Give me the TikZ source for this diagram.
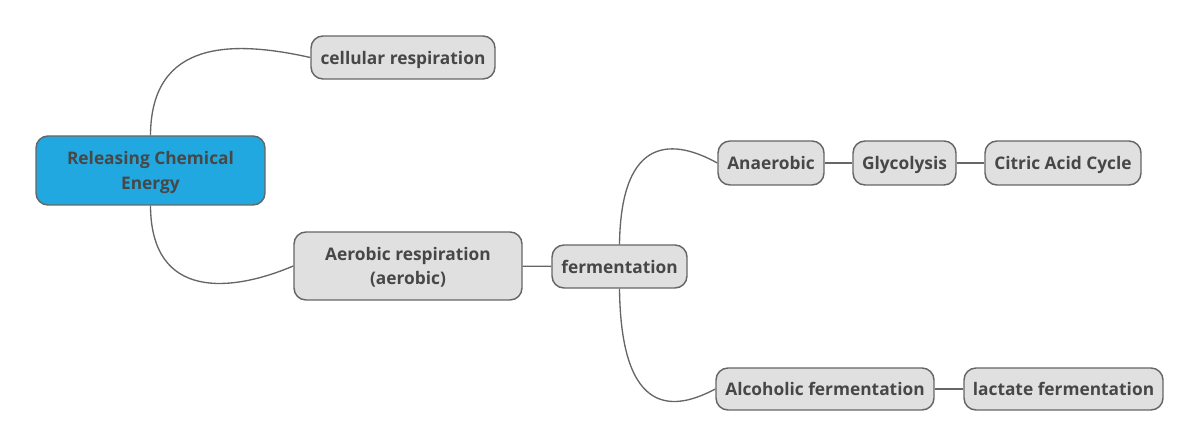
\documentclass[tikz,border=0pt]{standalone}
\usepackage{fontspec}
\setmainfont{Open Sans}
\usetikzlibrary{positioning}
\definecolor{boxfill}{HTML}{E0E0E0}
\definecolor{rootfill}{HTML}{22A8E0}
\definecolor{edge}{HTML}{666666}
\definecolor{txt}{HTML}{474747}

\begin{document}
\begin{tikzpicture}[x=0.75pt,y=-0.75pt,
  topic/.style={draw=edge,line width=1.1pt,fill=boxfill,rounded corners=9pt,
    text=txt,font=\fontsize{13}{18.5}\selectfont\bfseries,align=center,inner sep=0pt,text depth=0pt},
  link/.style={draw=edge,line width=1pt}]
  \useasboundingbox (0,0) rectangle (1200,448);
  \node[topic,fill=rootfill,minimum width=229*0.75pt,minimum height=69*0.75pt] (energy) at (150.5,170.5) {Releasing Chemical\\Energy};
  \node[topic,minimum width=184*0.75pt,minimum height=43*0.75pt] (cellular) at (403,57.5) {cellular respiration};
  \node[topic,minimum width=228*0.75pt,minimum height=68*0.75pt] (aerobic) at (408,266) {Aerobic respiration\\(aerobic)};
  \node[topic,minimum width=135*0.75pt,minimum height=43*0.75pt] (ferment) at (619.5,266.5) {fermentation};
  \node[topic,minimum width=106*0.75pt,minimum height=44*0.75pt] (anaerobic) at (771,163) {Anaerobic};
  \node[topic,minimum width=103*0.75pt,minimum height=44*0.75pt] (glycolysis) at (904.5,163) {Glycolysis};
  \node[topic,minimum width=156*0.75pt,minimum height=44*0.75pt] (citric) at (1063,163) {Citric Acid Cycle};
  \node[topic,minimum width=218*0.75pt,minimum height=42*0.75pt] (alcoholic) at (825,389) {Alcoholic fermentation};
  \node[topic,minimum width=199*0.75pt,minimum height=42*0.75pt] (lactate) at (1063.5,389) {lactate fermentation};
  % curved branches
  \draw[link] (energy.north) .. controls (151,40) and (232,40) .. (cellular.west);
  \draw[link] (energy.south) .. controls (151,301) and (232,292) .. (aerobic.west);
  \draw[link] (ferment.north) .. controls (621,132) and (676,140) .. (anaerobic.west);
  \draw[link] (ferment.south) .. controls (621,420) and (676,410) .. (alcoholic.west);
  % straight links
  \draw[link] (aerobic) -- (ferment);
  \draw[link] (anaerobic) -- (glycolysis);
  \draw[link] (glycolysis) -- (citric);
  \draw[link] (alcoholic) -- (lactate);
\end{tikzpicture}
\end{document}
